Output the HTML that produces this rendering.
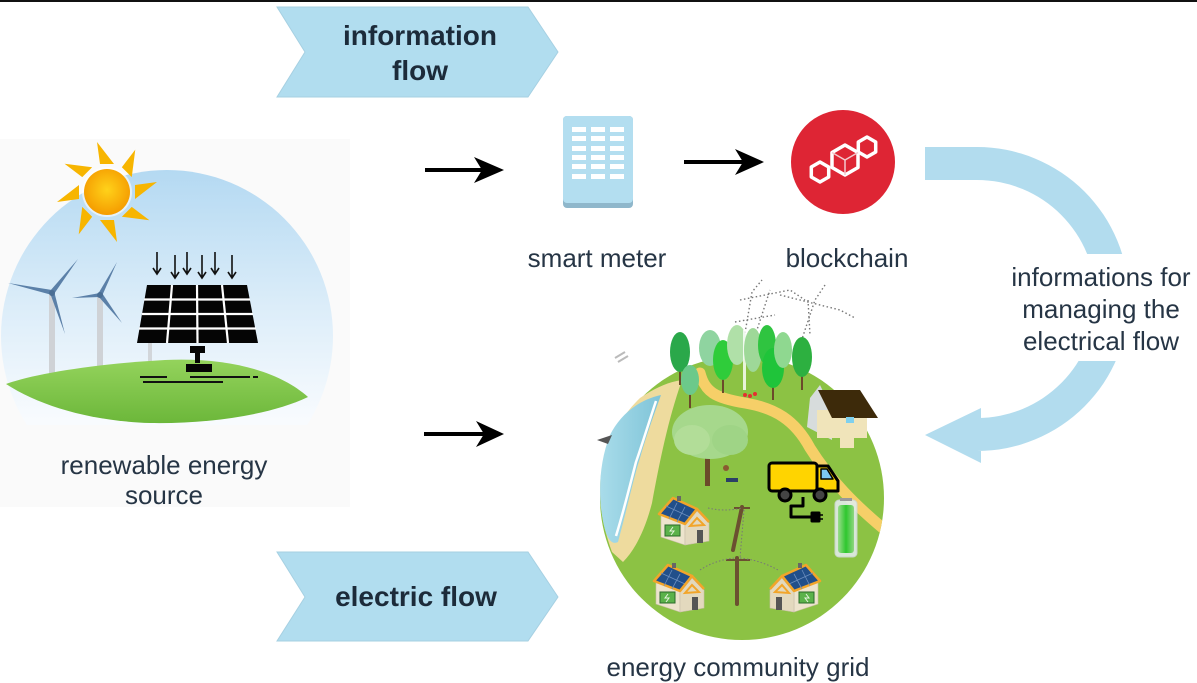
<!DOCTYPE html>
<html><head><meta charset="utf-8">
<style>
html,body{margin:0;padding:0;background:#fff;}
body{width:1197px;height:683px;overflow:hidden;position:relative;}
svg{position:absolute;left:0;top:0;}
text{font-family:"Liberation Sans",Arial,Helvetica,sans-serif;}
</style></head><body>
<svg width="1197" height="683" viewBox="0 0 1197 683" xmlns="http://www.w3.org/2000/svg">
<defs>
  <linearGradient id="sky" gradientUnits="userSpaceOnUse" x1="0" y1="170" x2="0" y2="420">
    <stop offset="0" stop-color="#b4d9f2"/>
    <stop offset="0.55" stop-color="#dcedf9"/>
    <stop offset="1" stop-color="#f8fbfe"/>
  </linearGradient>
  <linearGradient id="ground" x1="0" y1="0" x2="0" y2="1">
    <stop offset="0" stop-color="#94d35c"/>
    <stop offset="1" stop-color="#6cb73a"/>
  </linearGradient>
  <radialGradient id="sun" cx="0.5" cy="0.45" r="0.55">
    <stop offset="0" stop-color="#ffd21a"/>
    <stop offset="1" stop-color="#f59c00"/>
  </radialGradient>
  <linearGradient id="batt" x1="0" y1="0" x2="1" y2="0">
    <stop offset="0" stop-color="#9bdc8c"/>
    <stop offset="0.5" stop-color="#2ec72e"/>
    <stop offset="1" stop-color="#8fd680"/>
  </linearGradient>
  <linearGradient id="water" x1="0" y1="0" x2="1" y2="0">
    <stop offset="0" stop-color="#a9dcea"/>
    <stop offset="1" stop-color="#7fc4d8"/>
  </linearGradient>
  <clipPath id="skyclip"><rect x="0" y="140" width="350" height="285"/></clipPath>
  <clipPath id="globe"><circle cx="742" cy="498" r="142"/></clipPath>
  <g id="house">
    <polygon points="4,18 28,28 28,48 4,40" fill="#ede4cd" stroke="#c9bfa8" stroke-width="0.6"/>
    <polygon points="28,28 40,14 52,26 52,44 28,48" fill="#e3d9be" stroke="#c9bfa8" stroke-width="0.6"/>
    <polygon points="33,29 40,21 47,28" fill="none" stroke="#f2a52a" stroke-width="2"/>
    <rect x="40" y="33" width="6" height="13" fill="#555"/>
    <polygon points="2,17 16,1 40,12 28,27" fill="#214f8a" stroke="#f2a52a" stroke-width="2.5" stroke-linejoin="round"/>
    <line x1="9" y1="9" x2="33" y2="20" stroke="#6c8fbf" stroke-width="0.8"/>
    <line x1="20" y1="6" x2="12" y2="22" stroke="#6c8fbf" stroke-width="0.8"/>
    <line x1="28" y1="10" x2="20" y2="25" stroke="#6c8fbf" stroke-width="0.8"/>
    <polyline points="28,27 40,12 52,25" fill="none" stroke="#f2a52a" stroke-width="2.5" stroke-linejoin="round"/>
    <rect x="20" y="-1" width="4" height="5" fill="#666"/>
    <rect x="8" y="28" width="15" height="11" fill="#5bb24a" stroke="#2b6b2b" stroke-width="1"/>
    <path d="M16,30 L13,34 L17,34 L14,38" fill="none" stroke="#e8f5e0" stroke-width="1"/>
  </g>
</defs>

<!-- top black line -->
<rect x="0" y="0" width="1197" height="2" fill="#111"/>

<!-- information flow banner -->
<polygon points="277,7 528,7 558,52 528,97 277,97 305,52" fill="#b1ddef" stroke="#a6d0e2" stroke-width="1"/>
<text x="420" y="45" font-size="28" font-weight="bold" fill="#1c2b3a" text-anchor="middle">information</text>
<text x="420" y="80" font-size="28" font-weight="bold" fill="#1c2b3a" text-anchor="middle">flow</text>

<!-- electric flow banner -->
<polygon points="277,552 528,552 558,597 528,641 277,641 305,597" fill="#b1ddef" stroke="#a6d0e2" stroke-width="1"/>
<text x="416" y="606" font-size="28" font-weight="bold" fill="#1c2b3a" text-anchor="middle">electric flow</text>

<!-- renewable energy source image -->
<rect x="0" y="139" width="350" height="368" fill="#fafafa"/>
<g clip-path="url(#skyclip)">
  <circle cx="167" cy="336" r="166" fill="url(#sky)"/>
</g>
<!-- sun -->
<g transform="translate(107,192)" fill="#f7b500">
  <polygon points="-7,-28 7,-28 -10,-50" transform="rotate(0)"/>
  <polygon points="-7,-28 7,-28 -10,-50" transform="rotate(45)"/>
  <polygon points="-7,-28 7,-28 -10,-50" transform="rotate(90)"/>
  <polygon points="-7,-28 7,-28 -10,-50" transform="rotate(135)"/>
  <polygon points="-7,-28 7,-28 -10,-50" transform="rotate(180)"/>
  <polygon points="-7,-28 7,-28 -10,-50" transform="rotate(225)"/>
  <polygon points="-7,-28 7,-28 -10,-50" transform="rotate(270)"/>
  <polygon points="-7,-28 7,-28 -10,-50" transform="rotate(315)"/>
  <circle cx="0" cy="0" r="25" fill="#ffffff" opacity="0.6"/>
  <circle cx="0" cy="0" r="23" fill="url(#sun)"/>
</g>
<!-- turbine 3 (behind) -->
<rect x="148" y="315" width="4" height="46" fill="#d2d6da"/>
<!-- turbines -->
<rect x="49" y="292" width="6" height="104" fill="#cfd2d6"/>
<polygon points="52,290 8,283 52,295" fill="#5b80a8"/>
<polygon points="50,291 78,259 54,294" fill="#5b80a8"/>
<polygon points="50,293 65,334 54,291" fill="#5b80a8"/>
<circle cx="52" cy="293" r="3" fill="#4a6e94"/>
<rect x="97" y="294" width="6" height="89" fill="#cfd2d6"/>
<polygon points="100,293 72,298 100,297" fill="#5b80a8"/>
<polygon points="98,294 117,262 102,296" fill="#5b80a8"/>
<polygon points="98,296 122,323 102,293" fill="#5b80a8"/>
<circle cx="100" cy="295" r="3" fill="#4a6e94"/>
<!-- ground -->
<path d="M6,384 C30,375 90,364 165,360 C230,357 280,372 308,397 C270,415 210,424 150,423 C90,421 40,406 6,384 Z" fill="url(#ground)"/>
<!-- solar panel -->
<polygon points="147,285 247,285 258,343 137,343" fill="#050505"/>
<g stroke="#ffffff" stroke-width="2.2">
  <line x1="172" y1="285" x2="167" y2="343"/>
  <line x1="197" y1="285" x2="197.5" y2="343"/>
  <line x1="222" y1="285" x2="228" y2="343"/>
  <line x1="144" y1="299.5" x2="250" y2="299.5"/>
  <line x1="142" y1="314" x2="253" y2="314"/>
  <line x1="139" y1="328.5" x2="256" y2="328.5"/>
</g>
<rect x="190" y="346" width="15" height="7" fill="#050505"/>
<rect x="195" y="353" width="5" height="10" fill="#050505"/>
<rect x="186" y="364" width="26" height="8" fill="#050505"/>
<g stroke="#111" stroke-width="2">
  <line x1="140" y1="377" x2="167" y2="377"/>
  <line x1="190" y1="377" x2="250" y2="377"/>
  <line x1="253" y1="377" x2="258" y2="377"/>
  <line x1="143" y1="382" x2="223" y2="382"/>
</g>
<!-- down arrows -->
<g stroke="#111" stroke-width="1.6" fill="none">
  <path d="M157,252 V273 M153,268 L157,274 L161,268"/>
  <path d="M175,255 V277 M171,272 L175,278 L179,272"/>
  <path d="M187,252 V273 M183,268 L187,274 L191,268"/>
  <path d="M202,255 V277 M198,272 L202,278 L206,272"/>
  <path d="M215,252 V273 M211,268 L215,274 L219,268"/>
  <path d="M232,255 V277 M228,272 L232,278 L236,272"/>
</g>
<text x="164" y="474" font-size="26" fill="#263545" text-anchor="middle">renewable energy</text>
<text x="164" y="504" font-size="26" fill="#263545" text-anchor="middle">source</text>

<!-- black arrows -->
<line x1="425" y1="170" x2="486" y2="170" stroke="#000" stroke-width="4"/>
<path d="M504,170 L474,157 L482,170 L474,183 Z" fill="#000"/>
<line x1="684" y1="162" x2="746" y2="162" stroke="#000" stroke-width="4"/>
<path d="M764,162 L735,149 L743,162 L735,175 Z" fill="#000"/>
<line x1="424" y1="434" x2="488" y2="434" stroke="#000" stroke-width="4"/>
<path d="M504,434 L476,421 L484,434 L476,447 Z" fill="#000"/>

<!-- smart meter -->
<rect x="563" y="116" width="70" height="92" rx="4" fill="#8fb7cb"/>
<rect x="563" y="116" width="70" height="87" rx="4" fill="#b3def0"/>
<g fill="#ffffff">
  <rect x="572" y="127" width="14" height="5"/><rect x="591" y="127" width="14" height="5"/><rect x="610" y="127" width="14" height="5"/>
  <rect x="572" y="136" width="14" height="5"/><rect x="591" y="136" width="14" height="5"/><rect x="610" y="136" width="14" height="5"/>
  <rect x="572" y="146" width="14" height="5"/><rect x="591" y="146" width="14" height="5"/><rect x="610" y="146" width="14" height="5"/>
  <rect x="572" y="155" width="14" height="5"/><rect x="591" y="155" width="14" height="5"/><rect x="610" y="155" width="14" height="5"/>
  <rect x="572" y="164" width="14" height="5"/><rect x="591" y="164" width="14" height="5"/><rect x="610" y="164" width="14" height="5"/>
  <rect x="572" y="174" width="14" height="5"/><rect x="591" y="174" width="14" height="5"/><rect x="610" y="174" width="14" height="5"/>
</g>
<text x="597" y="267" font-size="26" fill="#263545" text-anchor="middle">smart meter</text>

<!-- blockchain -->
<circle cx="843" cy="162" r="52" fill="#de2534"/>
<g fill="none" stroke="#ffffff" stroke-width="3.5" stroke-linejoin="round">
  <polygon points="820,162 828.7,167 828.7,177 820,182 811.3,177 811.3,167"/>
  <polygon points="867,137 875.7,142 875.7,152 867,157 858.3,152 858.3,142"/>
  <polygon points="845,145 858,152.5 858,167.5 845,175 832,167.5 832,152.5"/>
</g>
<g fill="none" stroke="#f3c8cc" stroke-width="1.5">
  <polyline points="832,152.5 845,160 858,152.5"/>
  <line x1="845" y1="160" x2="845" y2="175"/>
</g>
<text x="847" y="267" font-size="26" fill="#263545" text-anchor="middle">blockchain</text>

<!-- curved arrow -->
<path d="M925,147 H977 A152,152 0 0 1 977,451 H981 V463 L925,435 L981,408 V418 H977 A119,119 0 0 0 977,180 H925 Z" fill="#b2dcee"/>
<rect x="1000" y="254" width="197" height="107" fill="#ffffff"/>
<text x="1101" y="286" font-size="26" fill="#263545" text-anchor="middle">informations for</text>
<text x="1101" y="318" font-size="26" fill="#263545" text-anchor="middle">managing the</text>
<text x="1101" y="350" font-size="26" fill="#263545" text-anchor="middle">electrical flow</text>

<!-- energy community grid -->
<!-- dotted towers -->
<g stroke="#777" stroke-width="1.4" stroke-dasharray="1.5 2.5" fill="none">
  <path d="M745,333 L752,292 L762,280"/>
  <path d="M755,336 L770,290"/>
  <path d="M740,300 L790,290 L805,300"/>
  <path d="M800,345 L815,300 L825,285"/>
  <path d="M780,295 L840,310 L855,318"/>
  <path d="M808,300 L810,335"/>
  <path d="M735,322 L775,315"/>
</g>
<circle cx="742" cy="498" r="142" fill="#8cc244"/>
<!-- sand and sea -->
<path d="M682,380 C668,420 660,460 652,503 C645,530 635,550 623,562 L612,552 C604,530 600,510 600,490 C600,460 612,425 640,398 C655,388 668,382 682,380 Z" fill="#eedb9e"/>
<path d="M661,395 C652,420 645,440 640,458 C633,480 628,505 618,542 C610,546 605,535 602,515 C598,490 600,460 610,435 C620,415 638,400 661,395 Z" fill="url(#water)"/>
<path d="M656,401 C648,425 642,445 636,462 C630,485 624,510 616,536" fill="none" stroke="#ffffff" stroke-width="2.5"/>
<g clip-path="url(#globe)">
  <path d="M700,373 C705,392 715,398 745,403 C775,408 795,420 810,448 C830,480 855,505 885,530" fill="none" stroke="#f6cf68" stroke-width="11" stroke-linecap="round"/>
</g>
<!-- trees top -->
<g>
  <rect x="679" y="360" width="2" height="25" fill="#6b4a2a"/>
  <ellipse cx="680" cy="352" rx="10" ry="20" fill="#2aa84a"/>
  <rect x="689" y="380" width="2" height="28" fill="#6b4a2a"/>
  <ellipse cx="690" cy="380" rx="9" ry="15" fill="#6cc98a"/>
  <ellipse cx="710" cy="348" rx="11" ry="18" fill="#8fd4a0"/>
  <rect x="722" y="365" width="2" height="28" fill="#6b4a2a"/>
  <ellipse cx="723" cy="360" rx="10" ry="20" fill="#2fcc3a"/>
  <ellipse cx="737" cy="345" rx="10" ry="20" fill="#b0e0a8"/>
  <rect x="743" y="330" width="3" height="60" fill="#ffffff" opacity="0.8"/>
  <ellipse cx="753" cy="350" rx="9" ry="22" fill="#9ed898"/>
  <rect x="772" y="370" width="2" height="30" fill="#6b4a2a"/>
  <ellipse cx="767" cy="345" rx="9" ry="20" fill="#2fc440"/>
  <ellipse cx="773" cy="368" rx="11" ry="20" fill="#1fc43a"/>
  <ellipse cx="783" cy="350" rx="9" ry="18" fill="#8fd890"/>
  <rect x="801" y="365" width="2" height="25" fill="#6b4a2a"/>
  <ellipse cx="802" cy="357" rx="10" ry="20" fill="#2db040"/>
  <circle cx="745" cy="395" r="2" fill="#e53030"/><circle cx="750" cy="396" r="2" fill="#e53030"/><circle cx="755" cy="394" r="2" fill="#e53030"/>
</g>
<!-- house top right -->
<polygon points="807,427 810,398 820,385 832,410 832,440" fill="#d7dcdc"/>
<rect x="817" y="410" width="50" height="28" fill="#f0e4ba"/>
<polygon points="818,390 860,390 878,418 832,418" fill="#3d2a0a"/>
<rect x="846" y="417" width="8" height="6" fill="#7ed0ee"/>
<rect x="840" y="438" width="14" height="10" fill="#f0e4ba"/>
<!-- birds -->
<path d="M615,358 L625,352 M618,362 L628,356" stroke="#bbb" stroke-width="2"/>
<path d="M597,440 L612,435 L608,444 Z" fill="#555"/>
<!-- big tree -->
<rect x="705" y="448" width="5" height="38" fill="#6b4a2a"/>
<ellipse cx="710" cy="432" rx="38" ry="27" fill="#a6d88c"/>
<ellipse cx="692" cy="440" rx="18" ry="15" fill="#b2dd98"/>
<ellipse cx="730" cy="440" rx="18" ry="15" fill="#9fd486"/>
<!-- person -->
<circle cx="726" cy="468" r="3" fill="#8a5a30"/>
<rect x="720" y="472" width="9" height="9" fill="#8cc83a"/>
<rect x="726" y="478" width="12" height="4" fill="#2b3f66"/>
<!-- poles -->
<g stroke="#6b5030" stroke-width="4" stroke-linecap="round">
  <line x1="742" y1="507" x2="733" y2="550"/>
  <line x1="737" y1="558" x2="737" y2="604"/>
</g>
<g stroke="#6b5030" stroke-width="2">
  <line x1="734" y1="508" x2="750" y2="508"/>
  <line x1="726" y1="560" x2="750" y2="560"/>
</g>
<g stroke="#777" stroke-width="1" stroke-dasharray="1.5 2" fill="none">
  <path d="M708,508 Q725,512 742,508"/>
  <path d="M700,570 Q715,560 735,558"/>
  <path d="M740,558 Q760,560 778,570"/>
  <path d="M744,510 L740,558"/>
</g>
<!-- houses -->
<use href="#house" transform="translate(657,497)"/>
<use href="#house" transform="translate(652,564)"/>
<use href="#house" transform="translate(822,564) scale(-1,1)"/>
<!-- truck -->
<g stroke="#000" stroke-width="3" stroke-linejoin="round">
  <rect x="769" y="463" width="48" height="28" rx="3" fill="#ffd400"/>
  <path d="M817,466 H828 L838,481 V491 H817 Z" fill="#ffd400"/>
  <path d="M821,469 H827 L833,479 H821 Z" fill="#7cc8f0" stroke-width="1.5"/>
  <circle cx="785" cy="495" r="6" fill="#444"/>
  <circle cx="820" cy="495" r="6" fill="#444"/>
  <path d="M803,497 V506 H791 V517 H812" fill="none"/>
  <rect x="812" y="513" width="7" height="8" fill="#000"/>
  <path d="M819,515 H823 M819,519 H823" stroke-width="1.5"/>
</g>
<!-- battery -->
<rect x="835" y="500" width="22" height="57" rx="4" fill="#e2ecea" stroke="#d0d8d6" stroke-width="1" opacity="0.9"/>
<rect x="838" y="505" width="16" height="48" rx="3" fill="url(#batt)"/>
<rect x="840" y="498" width="12" height="3" fill="#999"/>

<text x="738" y="676" font-size="26" fill="#263545" text-anchor="middle">energy community grid</text>
</svg>
</body></html>
